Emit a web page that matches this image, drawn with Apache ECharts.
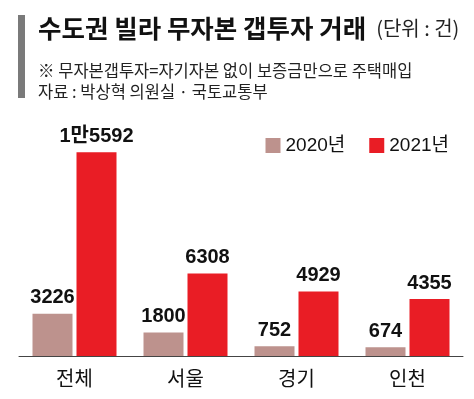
<!DOCTYPE html>
<html>
<head>
<meta charset="utf-8">
<script src="https://cdn.jsdelivr.net/npm/echarts@6/dist/echarts.min.js"></script>
<style>
  html, body { margin: 0; padding: 0; background: #fff; }
  #chart { width: 474px; height: 399px; }
</style>
</head>
<body>
<div id="chart"></div>
<script>
const regions = ['전체', '서울', '경기', '인천'];
const y2020 = [3226, 1800, 752, 674];
const y2021 = [15592, 6308, 4929, 4355];
const seriesNames = ['2020년', '2021년'];

const KR = '"Noto Sans CJK KR", sans-serif';
const NUM = '"Liberation Sans", "Noto Sans CJK KR", sans-serif';

// 1만5592 style labels
function fmt(v) {
  if (v >= 10000) return Math.floor(v / 10000) + '만' + (v % 10000);
  return String(v);
}

const chart = echarts.init(document.getElementById('chart'));

const valueLabel = {
  show: true,
  position: 'top',
  distance: 6,
  fontFamily: NUM,
  fontSize: 20,
  fontWeight: 'bold',
  color: '#111',
  formatter: p => fmt(p.value)
};

chart.setOption({
  animation: false,
  title: [
    {
      left: 33, top: 11,
      text: '{a|수도권 빌라 무자본 갭투자 거래}  {b|(단위 : 건)}',
      textStyle: {
        rich: {
          a: { fontFamily: KR, fontSize: 25.5, fontWeight: 'bold', color: '#111' },
          b: { fontFamily: KR, fontSize: 20, fontWeight: 'normal', color: '#222' }
        }
      }
    },
    {
      left: 33, top: 55,
      text: '※ 무자본갭투자=자기자본 없이 보증금만으로 주택매입\n자료 : 박상혁 의원실 · 국토교통부',
      textStyle: { fontFamily: KR, fontSize: 16.5, fontWeight: 'normal', color: '#222', lineHeight: 21 }
    }
  ],
  graphic: [
    { type: 'rect', shape: { x: 18, y: 15, width: 7, height: 83 }, style: { fill: '#7a7a7a' } }
  ],
  legend: {
    right: 20, top: 131,
    icon: 'rect',
    itemWidth: 15, itemHeight: 15,
    itemGap: 24,
    textStyle: { fontFamily: NUM, fontSize: 19, color: '#111' },
    data: seriesNames
  },
  grid: { left: 19, right: 11, top: 147, bottom: 43 },
  xAxis: {
    type: 'category',
    data: regions,
    axisLine: { lineStyle: { color: '#444', width: 1 } },
    axisTick: { show: false },
    axisLabel: { fontFamily: KR, fontSize: 20, color: '#111', margin: 12 }
  },
  yAxis: {
    type: 'value', min: 0, max: 16000,
    show: false
  },
  series: [
    {
      name: seriesNames[0], type: 'bar', data: y2020,
      barWidth: 40, barGap: '10%',
      itemStyle: { color: '#bd928d' },
      label: valueLabel
    },
    {
      name: seriesNames[1], type: 'bar', data: y2021,
      barWidth: 40,
      itemStyle: { color: '#e91d25' },
      label: valueLabel
    }
  ]
});
</script>
</body>
</html>
